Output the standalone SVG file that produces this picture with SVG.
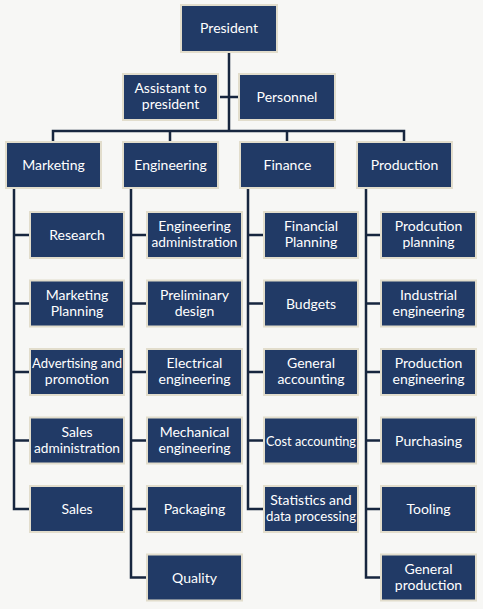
<svg xmlns="http://www.w3.org/2000/svg" width="483" height="609" viewBox="0 0 483 609">
<style>
.bx{fill:#213a66;stroke:#e2ddcc;stroke-width:2}
.t{fill:#ffffff;font-family:Lato,"Open Sans",sans-serif;font-size:14px;text-anchor:middle}
.c{fill:none;stroke:#17263f;stroke-width:2.5}
</style>
<rect width="483" height="609" fill="#f7f7f5"/>
<g id="connectors" class="c">
<path d="M229 52V131M220 97H239M53 142V131H404V142M170 131V142M287 131V142"/>
<path d="M14 189V509H30M14 235H30M14 303.5H30M14 372H30M14 440.5H30"/>
<path d="M131 189V577.5H147M131 235H147M131 303.5H147M131 372H147M131 440.5H147M131 509H147"/>
<path d="M248 189V509H264M248 235H264M248 303.5H264M248 372H264M248 440.5H264"/>
<path d="M366 189V577.5H381M366 235H381M366 303.5H381M366 372H381M366 440.5H381M366 509H381"/>
</g>
<g id="president"><rect class="bx" x="181" y="5" width="96" height="47"/><text class="t" x="229" y="33">President</text></g>
<g id="assistant"><rect class="bx" x="123" y="74" width="95" height="46"/><text class="t" x="170.5" y="93">Assistant to</text><text class="t" x="170.5" y="109">president</text></g>
<g id="personnel"><rect class="bx" x="239" y="74" width="96" height="46"/><text class="t" x="287" y="102">Personnel</text></g>
<g id="marketing"><rect class="bx" x="6" y="142" width="95" height="46"/><text class="t" x="53.5" y="170">Marketing</text></g>
<g id="engineering"><rect class="bx" x="123" y="142" width="95" height="46"/><text class="t" x="170.5" y="170">Engineering</text></g>
<g id="finance"><rect class="bx" x="240" y="142" width="95" height="46"/><text class="t" x="287.5" y="170">Finance</text></g>
<g id="production"><rect class="bx" x="357" y="142" width="95" height="46"/><text class="t" x="404.5" y="170">Production</text></g>

<g id="research"><rect class="bx" x="30" y="212" width="94" height="46"/><text class="t" x="77" y="240">Research</text></g>
<g id="marketing-planning"><rect class="bx" x="30" y="280.5" width="94" height="46"/><text class="t" x="77" y="299.5">Marketing</text><text class="t" x="77" y="315.5">Planning</text></g>
<g id="advertising"><rect class="bx" x="30" y="349" width="94" height="46"/><text class="t" x="77" y="368" textLength="90" lengthAdjust="spacingAndGlyphs">Advertising and</text><text class="t" x="77" y="384">promotion</text></g>
<g id="sales-admin"><rect class="bx" x="30" y="417.5" width="94" height="46"/><text class="t" x="77" y="436.5">Sales</text><text class="t" x="77" y="452.5" textLength="86" lengthAdjust="spacingAndGlyphs">administration</text></g>
<g id="sales"><rect class="bx" x="30" y="486" width="94" height="46"/><text class="t" x="77" y="514">Sales</text></g>

<g id="eng-admin"><rect class="bx" x="147" y="212" width="95" height="46"/><text class="t" x="194.5" y="231">Engineering</text><text class="t" x="194.5" y="247" textLength="86" lengthAdjust="spacingAndGlyphs">administration</text></g>
<g id="preliminary"><rect class="bx" x="147" y="280.5" width="95" height="46"/><text class="t" x="194.5" y="299.5">Preliminary</text><text class="t" x="194.5" y="315.5">design</text></g>
<g id="electrical"><rect class="bx" x="147" y="349" width="95" height="46"/><text class="t" x="194.5" y="368">Electrical</text><text class="t" x="194.5" y="384">engineering</text></g>
<g id="mechanical"><rect class="bx" x="147" y="417.5" width="95" height="46"/><text class="t" x="194.5" y="436.5">Mechanical</text><text class="t" x="194.5" y="452.5">engineering</text></g>
<g id="packaging"><rect class="bx" x="147" y="486" width="95" height="46"/><text class="t" x="194.5" y="514">Packaging</text></g>
<g id="quality"><rect class="bx" x="147" y="554.5" width="95" height="46"/><text class="t" x="194.5" y="582.5">Quality</text></g>

<g id="financial-planning"><rect class="bx" x="264" y="212" width="94" height="46"/><text class="t" x="311" y="231">Financial</text><text class="t" x="311" y="247">Planning</text></g>
<g id="budgets"><rect class="bx" x="264" y="280.5" width="94" height="46"/><text class="t" x="311" y="308.5">Budgets</text></g>
<g id="general-accounting"><rect class="bx" x="264" y="349" width="94" height="46"/><text class="t" x="311" y="368">General</text><text class="t" x="311" y="384">accounting</text></g>
<g id="cost-accounting"><rect class="bx" x="264" y="417.5" width="94" height="46"/><text class="t" x="311" y="445.5" textLength="90" lengthAdjust="spacingAndGlyphs">Cost accounting</text></g>
<g id="statistics"><rect class="bx" x="264" y="486" width="94" height="46"/><text class="t" x="311" y="505">Statistics and</text><text class="t" x="311" y="521" textLength="90" lengthAdjust="spacingAndGlyphs">data processing</text></g>

<g id="prodcution-planning"><rect class="bx" x="381" y="212" width="95" height="46"/><text class="t" x="428.5" y="231">Prodcution</text><text class="t" x="428.5" y="247">planning</text></g>
<g id="industrial"><rect class="bx" x="381" y="280.5" width="95" height="46"/><text class="t" x="428.5" y="299.5">Industrial</text><text class="t" x="428.5" y="315.5">engineering</text></g>
<g id="production-eng"><rect class="bx" x="381" y="349" width="95" height="46"/><text class="t" x="428.5" y="368">Production</text><text class="t" x="428.5" y="384">engineering</text></g>
<g id="purchasing"><rect class="bx" x="381" y="417.5" width="95" height="46"/><text class="t" x="428.5" y="445.5">Purchasing</text></g>
<g id="tooling"><rect class="bx" x="381" y="486" width="95" height="46"/><text class="t" x="428.5" y="514">Tooling</text></g>
<g id="general-production"><rect class="bx" x="381" y="554.5" width="95" height="46"/><text class="t" x="428.5" y="573.5">General</text><text class="t" x="428.5" y="589.5">production</text></g>
</svg>
